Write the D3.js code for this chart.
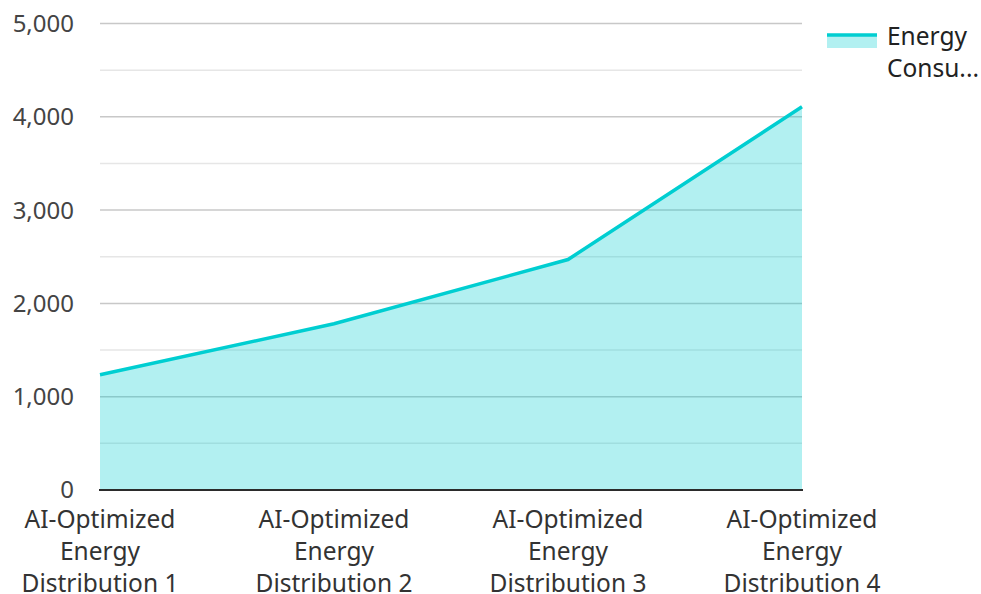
<!DOCTYPE html>
<html><head><meta charset="utf-8">
<script src="https://cdn.jsdelivr.net/npm/d3@7/dist/d3.min.js"></script>
<style>body{margin:0;background:#fff}svg{display:block}text{font-family:"Noto Sans",sans-serif}</style>
</head><body>
<svg id="c" width="981" height="594"></svg>
<script>
const categories = [
  ["AI-Optimized","Energy","Distribution 1"],
  ["AI-Optimized","Energy","Distribution 2"],
  ["AI-Optimized","Energy","Distribution 3"],
  ["AI-Optimized","Energy","Distribution 4"]
];
const values = [1235, 1782, 2470, 4108];
const yTicks = [0, 1000, 2000, 3000, 4000, 5000];
const yMinor = [500, 1500, 2500, 3500, 4500];
const seriesName = ["Energy", "Consu..."];

const svg = d3.select("#c");
const L = 100, R = 802, T = 23.5, B = 490;
const x = d3.scalePoint().domain(d3.range(categories.length)).range([L, R]).padding(0);
const y = d3.scaleLinear().domain([0, 5000]).range([B, T]);
const color = "#00CED1";

// minor grid
svg.append("g").selectAll("line").data(yMinor).join("line")
  .attr("x1", L).attr("x2", R).attr("y1", d => y(d)).attr("y2", d => y(d))
  .attr("stroke", "#e6e6e6").attr("stroke-width", 1.5);
// major grid
svg.append("g").selectAll("line").data(yTicks.filter(d => d > 0)).join("line")
  .attr("x1", L).attr("x2", R).attr("y1", d => y(d)).attr("y2", d => y(d))
  .attr("stroke", "#c8c8c8").attr("stroke-width", 1.5);

// area
svg.append("path").datum(values)
  .attr("d", d3.area().x((d, i) => x(i)).y0(y(0)).y1(d => y(d)))
  .attr("fill", color).attr("fill-opacity", 0.3);
svg.append("path").datum(values)
  .attr("d", d3.line().x((d, i) => x(i)).y(d => y(d)))
  .attr("fill", "none").attr("stroke", color).attr("stroke-width", 3.5);

// x axis line
svg.append("line").attr("x1", L - 1).attr("x2", R + 1).attr("y1", B).attr("y2", B)
  .attr("stroke", "#2b2b2b").attr("stroke-width", 2);

// y labels
const fmt = d3.format(",");
svg.append("g").selectAll("text").data(yTicks).join("text")
  .attr("x", 74).attr("y", d => y(d)).attr("dy", "0.35em")
  .attr("text-anchor", "end").attr("font-size", 24).attr("fill", "#444")
  .text(d => fmt(d));

// x labels
const xl = svg.append("g").selectAll("text").data(categories).join("text")
  .attr("text-anchor", "middle").attr("font-size", 24.5).attr("fill", "#333");
xl.each(function(lines, i) {
  d3.select(this).selectAll("tspan").data(lines).join("tspan")
    .attr("x", x(i)).attr("y", (d, j) => 519 + j * 32).attr("dy", "0.35em").text(d => d);
});

// legend
svg.append("rect").attr("x", 827).attr("y", 34).attr("width", 50).attr("height", 14)
  .attr("fill", color).attr("fill-opacity", 0.3);
svg.append("line").attr("x1", 827).attr("x2", 877).attr("y1", 35).attr("y2", 35)
  .attr("stroke", color).attr("stroke-width", 3.5);
svg.append("text").attr("font-size", 24.5).attr("fill", "#222")
  .selectAll("tspan").data(seriesName).join("tspan")
  .attr("x", 887).attr("y", (d, j) => 36 + j * 32).attr("dy", "0.35em").text(d => d);
</script>
</body></html>
